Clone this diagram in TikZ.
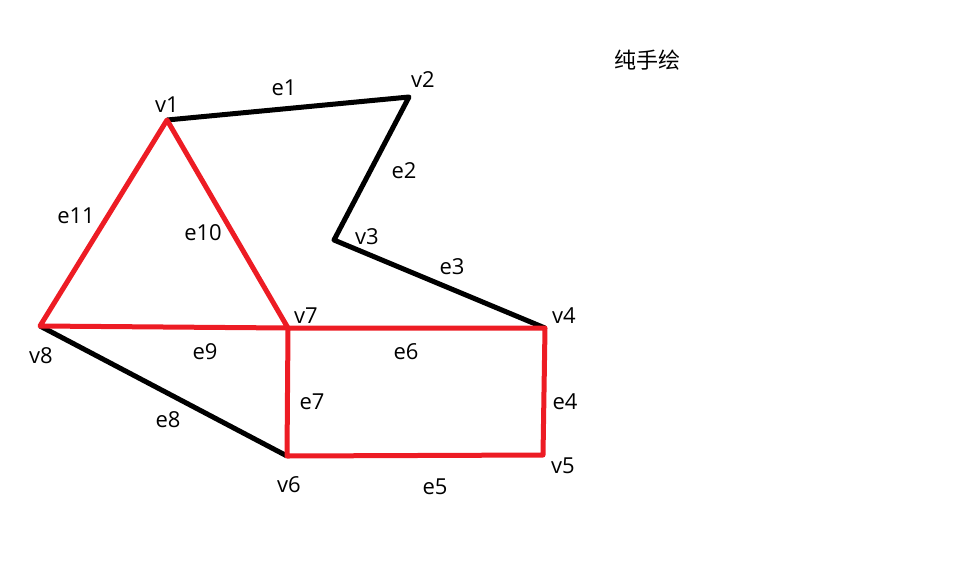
\documentclass[tikz,border=0pt]{standalone}
\usepackage{fontspec}
\setmainfont{Open Sans}
\newfontfamily\cjk{Noto Sans CJK SC}
\definecolor{paintred}{RGB}{237,28,36}

\begin{document}
\begin{tikzpicture}[x = 1pt, y = -1pt]
    \tikzset{VtxStyle/.style   = {coordinate}}
    \tikzset{LblStyle/.style   = {font = \fontsize{22}{26}\selectfont,
                                  inner sep = 0pt}}
    \tikzset{PlainEdge/.style  = {draw         = black,
                                  line width   = 5pt,
                                  line join    = round}}
    \tikzset{MarkEdge/.style   = {draw         = paintred,
                                  line width   = 5pt,
                                  line join    = round}}
    \useasboundingbox (0,0) rectangle (957,560);
    % vertices
    \node[VtxStyle] (v1) at (167,120) {};
    \node[VtxStyle] (v2) at (409,97)  {};
    \node[VtxStyle] (v3) at (334,240) {};
    \node[VtxStyle] (v4) at (545,328) {};
    \node[VtxStyle] (v5) at (543,455) {};
    \node[VtxStyle] (v6) at (287,456) {};
    \node[VtxStyle] (v7) at (288,328) {};
    \node[VtxStyle] (v8) at (40,326)  {};
    % black edges
    \draw[PlainEdge] (v1) -- (v2) -- (v3) -- (v4);
    \draw[PlainEdge] (v8) -- (v6);
    % red edges
    \draw[MarkEdge] (v7) -- (v1) -- (v8) -- (v7);
    \draw[MarkEdge] (v7) -- (v4) -- (v5) -- (v6) -- (v7);
    % vertex labels
    \node[LblStyle] (l1) at (167,105) {v1};
    \node[LblStyle] (l2) at (423,80)  {v2};
    \node[LblStyle] (l3) at (367,237) {v3};
    \node[LblStyle] (l4) at (564,316) {v4};
    \node[LblStyle] (l5) at (563,466) {v5};
    \node[LblStyle] (l6) at (289,485) {v6};
    \node[LblStyle] (l7) at (306,316) {v7};
    \node[LblStyle] (l8) at (41,356)  {v8};
    % edge labels
    \node[LblStyle] (n1)  at (284,88)  {e1};
    \node[LblStyle] (n2)  at (404,171) {e2};
    \node[LblStyle] (n3)  at (452,267) {e3};
    \node[LblStyle] (n4)  at (565,402) {e4};
    \node[LblStyle] (n5)  at (435,487) {e5};
    \node[LblStyle] (n6)  at (406,352) {e6};
    \node[LblStyle] (n7)  at (312,402) {e7};
    \node[LblStyle] (n8)  at (168,420) {e8};
    \node[LblStyle] (n9)  at (205,352) {e9};
    \node[LblStyle] (n10) at (203,233) {e10};
    \node[LblStyle] (n11) at (76,216)  {e11};
    \node[LblStyle] (note) at (647,60) {\cjk 纯手绘};
\end{tikzpicture}
\end{document}
